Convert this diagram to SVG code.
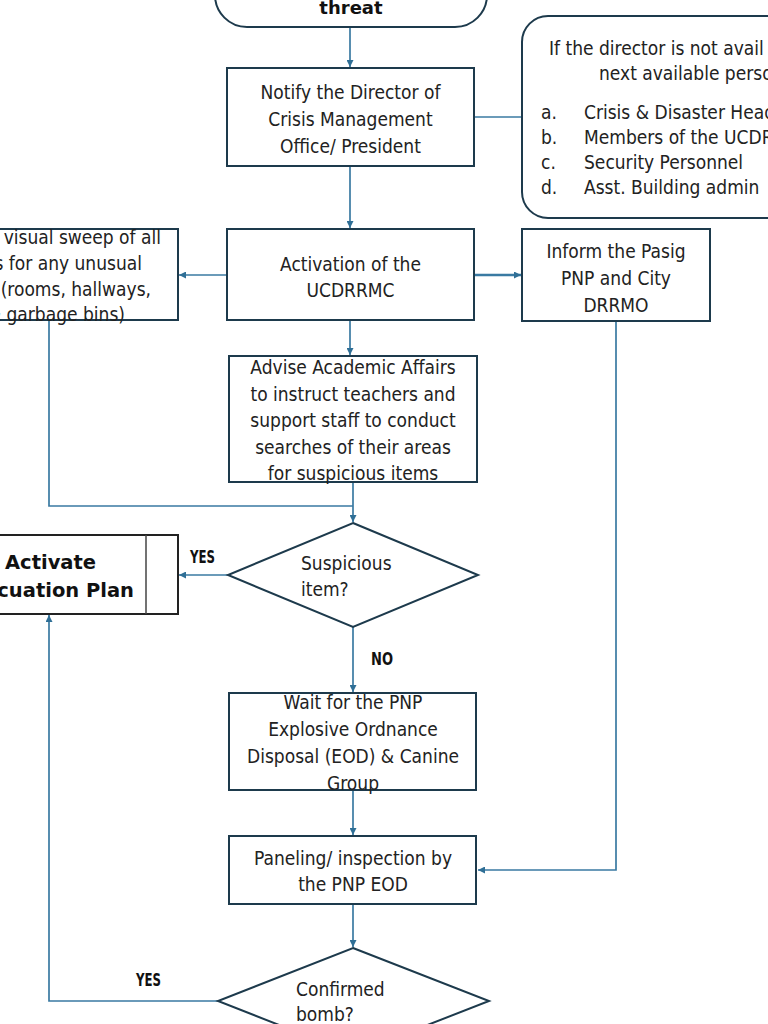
<svg xmlns="http://www.w3.org/2000/svg" width="768" height="1024" viewBox="0 0 768 1024">
<defs>
<marker id="ah" viewBox="0 0 10 10" refX="10" refY="5" markerWidth="7" markerHeight="7" orient="auto" markerUnits="userSpaceOnUse">
<path d="M0,0 L10,5 L0,10 z" fill="#2f6f96"/>
</marker>
<style>
.box{fill:#fff;stroke:#1d3a4c;stroke-width:2}
.bk{fill:#fff;stroke:#222;stroke-width:2}
.c{fill:none;stroke:#3a7aa2;stroke-width:1.7}
.ca{fill:none;stroke:#3a7aa2;stroke-width:1.7;marker-end:url(#ah)}
.t{font-family:"DejaVu Sans Condensed","DejaVu Sans",sans-serif;font-stretch:condensed;font-size:19px;fill:#222}
.m{text-anchor:middle}
.e{text-anchor:end}
.b{font-family:"DejaVu Sans",sans-serif;font-weight:bold;fill:#111}
.lab{font-family:"DejaVu Sans Condensed","DejaVu Sans",sans-serif;font-stretch:condensed;font-weight:bold;font-size:17px;fill:#111}
</style>
</defs>
<rect width="768" height="1024" fill="#fff"/>

<g id="connectors">
<path class="ca" d="M350,27 V67"/>
<path class="c" d="M474,117 H522"/>
<path class="ca" d="M350,166 V228"/>
<path class="ca" d="M227,275 H179"/>
<path class="ca" d="M474,275 H521" style="stroke-width:2.4"/>
<path class="ca" d="M350,320 V355"/>
<path class="c" d="M49,320 V506 H353"/>
<path class="ca" d="M353,483 V522"/>
<path class="ca" d="M228,575 H179"/>
<path class="ca" d="M353,627 V692"/>
<path class="ca" d="M353,790 V835"/>
<path class="ca" d="M616,321 V870 H478"/>
<path class="ca" d="M353,904 V947"/>
<path class="ca" d="M218,1001 H49 V615"/>
</g>

<g id="start">
<rect class="box" x="215" y="-40" width="272" height="67" rx="32"/>
<text class="b" x="351" y="14" font-size="18" text-anchor="middle">threat</text>
</g>

<g id="notify">
<rect class="box" x="227" y="68" width="247" height="98"/>
<text class="t m" x="350.5" y="99">Notify the Director of</text>
<text class="t m" x="350.5" y="126">Crisis Management</text>
<text class="t m" x="350.5" y="153">Office/ President</text>
</g>

<g id="alternates">
<rect class="box" x="522" y="16" width="290" height="202" rx="26"/>
<text class="t" x="549" y="55">If the director is not avail</text>
<text class="t" x="599" y="80">next available perso</text>
<text class="t" x="541" y="119">a.</text>
<text class="t" x="584" y="119">Crisis &amp; Disaster Head</text>
<text class="t" x="541" y="144">b.</text>
<text class="t" x="584" y="144">Members of the UCDRRMC</text>
<text class="t" x="541" y="169">c.</text>
<text class="t" x="584" y="169">Security Personnel</text>
<text class="t" x="541" y="194">d.</text>
<text class="t" x="584" y="194">Asst. Building admin</text>
</g>

<g id="sweep">
<rect class="box" x="-10" y="229" width="188" height="91"/>
<text class="t e" x="161" y="244">visual sweep of all</text>
<text class="t e" x="142" y="270">s for any unusual</text>
<text class="t e" x="151" y="296">(rooms, hallways,</text>
<text class="t e" x="125" y="321">&amp; garbage bins)</text>
</g>

<g id="activation">
<rect class="box" x="227" y="229" width="247" height="91"/>
<text class="t m" x="350.5" y="271">Activation of the</text>
<text class="t m" x="350.5" y="297">UCDRRMC</text>
</g>

<g id="inform">
<rect class="box" x="522" y="229" width="188" height="92"/>
<text class="t m" x="616" y="258">Inform the Pasig</text>
<text class="t m" x="616" y="285">PNP and City</text>
<text class="t m" x="616" y="312">DRRMO</text>
</g>

<g id="advise">
<rect class="box" x="229" y="356" width="248" height="126"/>
<text class="t m" x="353" y="374">Advise Academic Affairs</text>
<text class="t m" x="353" y="400.5">to instruct teachers and</text>
<text class="t m" x="353" y="427">support staff to conduct</text>
<text class="t m" x="353" y="453.5">searches of their areas</text>
<text class="t m" x="353" y="480">for suspicious items</text>
</g>

<g id="suspicious">
<path class="box" d="M353,523 L478,575 L353,627 L228,575 Z"/>
<text class="t" x="301" y="570">Suspicious</text>
<text class="t" x="301" y="596">item?</text>
</g>

<g id="evacuation">
<rect class="bk" x="-10" y="535" width="188" height="79"/>
<line x1="146" y1="535" x2="146" y2="614" stroke="#444" stroke-width="1.5"/>
<text class="b" x="5" y="569" font-size="19.5">Activate</text>
<text class="b" x="134" y="597" font-size="19.5" text-anchor="end">cuation Plan</text>
</g>

<g id="labels">
<text class="lab" x="190" y="563" textLength="25" lengthAdjust="spacingAndGlyphs">YES</text>
<text class="lab" x="371" y="665" textLength="22" lengthAdjust="spacingAndGlyphs">NO</text>
<text class="lab" x="136" y="986" textLength="25" lengthAdjust="spacingAndGlyphs">YES</text>
</g>

<g id="wait">
<rect class="box" x="229" y="693" width="247" height="97"/>
<text class="t m" x="353" y="709">Wait for the PNP</text>
<text class="t m" x="353" y="736">Explosive Ordnance</text>
<text class="t m" x="353" y="763">Disposal (EOD) &amp; Canine</text>
<text class="t m" x="353" y="790">Group</text>
</g>

<g id="paneling">
<rect class="box" x="229" y="836" width="247" height="68"/>
<text class="t m" x="353" y="865">Paneling/ inspection by</text>
<text class="t m" x="353" y="891">the PNP EOD</text>
</g>

<g id="confirmed">
<path class="box" d="M353,948 L489,1001 L353,1054 L218,1001 Z"/>
<text class="t" x="296" y="996">Confirmed</text>
<text class="t" x="296" y="1021">bomb?</text>
</g>
</svg>
